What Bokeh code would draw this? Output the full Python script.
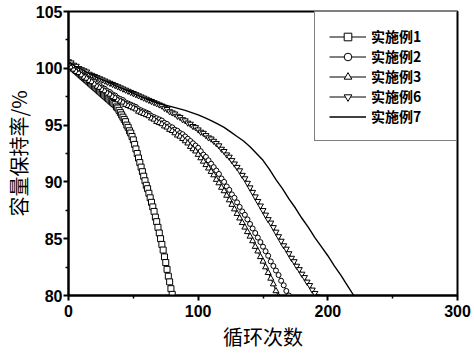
from bokeh.plotting import figure
from bokeh.models import Range1d, FixedTicker, Legend, LegendItem
from bokeh.embed import file_html
from bokeh.resources import INLINE

# ---- data ----
x1 = list(range(0, 81))
y1 = [100.4, 100.3, 100.2, 100.1, 100.0, 99.9, 99.8, 99.7, 99.6, 99.5,
      99.4, 99.3, 99.2, 99.1, 99.0, 98.9, 98.8, 98.7, 98.6, 98.5,
      98.4, 98.3, 98.2, 98.1, 98.0, 97.9, 97.8, 97.7, 97.6, 97.5,
      97.4, 97.3, 97.2, 97.1, 97.0, 96.9, 96.8, 96.6, 96.5, 96.3,
      96.1, 95.9, 95.7, 95.5, 95.3, 95.0, 94.8, 94.5, 94.3, 94.0,
      93.7, 93.3, 92.9, 92.5, 92.1, 91.7, 91.3, 90.9, 90.5, 90.1,
      89.7, 89.4, 89.0, 88.6, 88.2, 87.8, 87.4, 86.9, 86.5, 86.0,
      85.5, 85.0, 84.5, 84.0, 83.4, 82.9, 82.3, 81.7, 81.2, 80.6, 80.1]

x2 = list(range(0, 171, 2))
y2 = [100.5, 100.3, 100.1, 99.9, 99.8, 99.6, 99.4, 99.3, 99.1, 99.0,
      98.8, 98.6, 98.5, 98.3, 98.2, 98.0, 97.9, 97.7, 97.6, 97.4,
      97.3, 97.2, 97.0, 96.9, 96.8, 96.7, 96.6, 96.4, 96.3, 96.2,
      96.1, 96.0, 95.8, 95.7, 95.6, 95.5, 95.4, 95.2, 95.1, 94.9,
      94.8, 94.6, 94.5, 94.3, 94.2, 94.0, 93.8, 93.6, 93.4, 93.2,
      93.0, 92.7, 92.4, 92.2, 91.9, 91.6, 91.3, 91.0, 90.7, 90.3,
      90.0, 89.6, 89.3, 88.9, 88.6, 88.2, 87.8, 87.4, 87.1, 86.7,
      86.3, 85.9, 85.5, 85.1, 84.7, 84.3, 83.9, 83.5, 83.0, 82.6,
      82.2, 81.8, 81.3, 80.9, 80.4, 80.0]

x3 = list(range(0, 163, 2))
y3 = [100.3, 100.1, 99.9, 99.7, 99.6, 99.4, 99.2, 99.1, 98.9, 98.8,
      98.6, 98.4, 98.3, 98.1, 98.0, 97.8, 97.7, 97.5, 97.4, 97.2,
      97.1, 97.0, 96.8, 96.7, 96.6, 96.5, 96.4, 96.2, 96.1, 96.0,
      95.9, 95.8, 95.6, 95.5, 95.3, 95.2, 95.1, 94.9, 94.8, 94.6,
      94.5, 94.3, 94.1, 94.0, 93.8, 93.6, 93.4, 93.1, 92.9, 92.7,
      92.4, 92.1, 91.8, 91.5, 91.2, 90.9, 90.6, 90.2, 89.9, 89.5,
      89.2, 88.8, 88.4, 88.0, 87.6, 87.2, 86.8, 86.4, 86.0, 85.6,
      85.2, 84.8, 84.3, 83.9, 83.4, 83.0, 82.5, 82.0, 81.5, 81.0,
      80.4, 79.9]

x6 = list(range(0, 193, 2))
y6 = [100.6, 100.5, 100.3, 100.2, 100.0, 99.9, 99.8, 99.7, 99.5, 99.4,
      99.3, 99.2, 99.1, 99.0, 98.9, 98.8, 98.7, 98.6, 98.5, 98.4,
      98.3, 98.2, 98.1, 98.0, 97.9, 97.8, 97.7, 97.6, 97.5, 97.4,
      97.3, 97.2, 97.1, 97.0, 96.9, 96.8, 96.7, 96.5, 96.4, 96.2,
      96.1, 96.0, 95.8, 95.7, 95.5, 95.4, 95.2, 95.1, 94.9, 94.8,
      94.6, 94.4, 94.3, 94.1, 93.9, 93.8, 93.6, 93.4, 93.2, 92.9,
      92.7, 92.4, 92.2, 91.9, 91.6, 91.3, 91.0, 90.6, 90.3, 89.9,
      89.5, 89.1, 88.7, 88.3, 87.9, 87.5, 87.1, 86.7, 86.4, 86.0,
      85.6, 85.2, 84.8, 84.4, 84.1, 83.7, 83.3, 83.0, 82.6, 82.3,
      81.9, 81.6, 81.2, 80.9, 80.5, 80.2, 79.9]

x7 = list(range(0, 221, 5))
y7 = [100.6, 100.2, 99.9, 99.6, 99.3, 99.05, 98.8, 98.55, 98.3, 98.05,
      97.8, 97.55, 97.3, 97.1, 96.9, 96.75, 96.6, 96.45, 96.3, 96.1,
      95.9, 95.65, 95.4, 95.1, 94.8, 94.4, 94.0, 93.6, 93.1, 92.5,
      91.9, 91.1, 90.2, 89.4, 88.5, 87.7, 86.8, 86.0, 85.1, 84.3,
      83.5, 82.6, 81.8, 80.9, 80.0]

labels = ["实施例1", "实施例2", "实施例3", "实施例6", "实施例7"]
x_ticks = [0, 100, 200, 300]
y_ticks = [80, 85, 90, 95, 100, 105]

p = figure(width=474, height=353, output_backend="svg", toolbar_location=None,
           x_range=Range1d(0, 300), y_range=Range1d(80, 105),
           min_border_left=67, min_border_right=17, min_border_top=11,
           min_border_bottom=57)
p.grid.visible = False
p.outline_line_color = "black"
p.outline_line_width = 2
p.background_fill_color = "white"
p.border_fill_color = "white"

p.xaxis.ticker = FixedTicker(ticks=x_ticks, minor_ticks=[50, 150, 250])
p.yaxis.ticker = FixedTicker(ticks=y_ticks, minor_ticks=[82.5, 87.5, 92.5, 97.5, 102.5])
for ax in (p.xaxis, p.yaxis):
    ax.axis_line_width = 2
    ax.major_tick_line_width = 2
    ax.minor_tick_line_width = 1.5
    ax.major_tick_out = 5
    ax.major_tick_in = 0
    ax.minor_tick_out = 3
    ax.minor_tick_in = 0
    ax.major_label_text_font = "Liberation Sans"
    ax.major_label_text_font_style = "bold"
    ax.major_label_text_font_size = "16px"
    ax.major_label_text_color = "black"
    ax.axis_label_text_font = "Noto Sans CJK SC"
    ax.axis_label_text_font_style = "normal"
    ax.axis_label_text_font_size = "20px"
    ax.axis_label_text_color = "black"
p.xaxis.axis_label = "循环次数"
p.yaxis.axis_label = "容量保持率/%"
p.xaxis.major_label_standoff = 4
p.yaxis.major_label_standoff = 1
p.xaxis.axis_label_standoff = 2
p.yaxis.axis_label_standoff = 0

items = []
specs = [(x1, y1, "square", 6), (x2, y2, "circle", 5), (x3, y3, "triangle", 6),
         (x6, y6, "inverted_triangle", 6)]
for (xs, ys, mk, sz), lab in zip(specs, labels[:4]):
    ln = p.line(xs, ys, line_color="black", line_width=1)
    sc = p.scatter(xs, ys, marker=mk, size=sz, fill_color="white",
                   line_color="black", line_width=1)
    items.append(LegendItem(label=lab, renderers=[ln, sc]))
ln7 = p.line(x7, y7, line_color="black", line_width=1.4)
items.append(LegendItem(label=labels[4], renderers=[ln7]))

leg = Legend(items=items, location="top_right", margin=0, padding=14, spacing=0,
             label_height=19, glyph_height=19, glyph_width=37, label_standoff=5,
             label_width=71, border_line_color="black", border_line_width=1.5,
             background_fill_color="white", background_fill_alpha=1,
             label_text_font="Noto Sans CJK SC", label_text_font_style="bold",
             label_text_font_size="14px", label_text_color="black")
p.add_layout(leg)

open("out.html", "w").write(file_html(p, INLINE))
